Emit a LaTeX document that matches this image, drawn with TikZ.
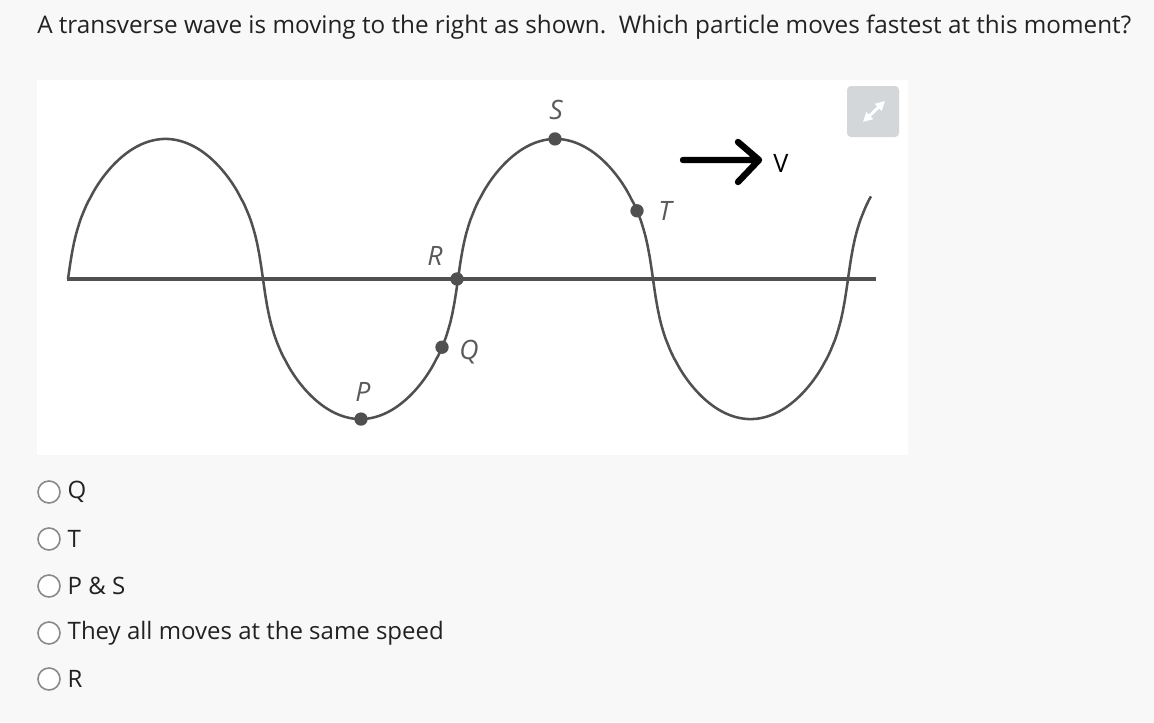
\documentclass[tikz,border=0pt]{standalone}
\usepackage{fontspec}
\setmainfont{Open Sans}
\usetikzlibrary{positioning}
\usetikzlibrary{arrows.meta}

\definecolor{pagebg}{HTML}{F8F8F8}
\definecolor{ink}{HTML}{222222}
\definecolor{wavegray}{HTML}{505050}
\definecolor{labelgray}{HTML}{5A5A5A}
\definecolor{radiogray}{HTML}{8A8A8A}
\definecolor{iconbg}{HTML}{D3D7D9}

\begin{document}
\begin{tikzpicture}[x=0.75pt,y=-0.75pt,
      declare function={sn(\t)=sin(\t*0.923077);
                        wv(\t)=279-140.4*sn(\t)*pow(sn(\t)*sn(\t)+0.01,-0.25);},
      dot/.style={circle,fill=wavegray,inner sep=0pt,minimum size=10pt},
      plabel/.style={font=\fontsize{20}{22}\selectfont\itshape,text=labelgray,inner sep=0pt},
      radio/.style={circle,draw=radiogray,fill=white,line width=1.2pt,minimum size=16.5pt,inner sep=0pt},
      answer/.style={right=5pt,font=\fontsize{18}{22}\selectfont,text=ink,inner sep=0pt},
    ]
    \useasboundingbox[fill=pagebg] (0,0) rectangle (1154,722);

    % question
    \node[anchor=west,font=\fontsize{18.2}{22}\selectfont,text=ink,inner sep=0pt] (question) at (37,27)
        {A transverse wave is moving to the right as shown.\ \ Which particle moves fastest at this moment?};

    % picture panel
    \fill[white] (37,80) rectangle (908,455);
    \draw[wavegray,line width=2.4pt] (67,279) -- (876,279);
    \draw[wavegray,line width=1.9pt,line join=round] plot[domain=0:803,samples=400] ({68+\x},{wv(\x)});

    % particles
    \node[dot] (P) at (361,{wv(293)}) {};
    \node[dot] (Q) at (442,{wv(374)}) {};
    \node[dot] (R) at (457,279) {};
    \node[dot] (S) at (555,{wv(487)}) {};
    \node[dot] (T) at (637,{wv(569)}) {};
    \node[plabel] at (363,392) {P};
    \node[plabel] at (469,352) {Q};
    \node[plabel] at (435,256) {R};
    \node[plabel] at (556,110) {S};
    \node[plabel] at (665,211) {T};

    % wave velocity
    \coordinate (vtail) at (683,160);
    \coordinate (vtip) at (759,160);
    \draw[line width=4.8pt,line cap=round,line join=round] (vtail) -- (vtip)
        (738,142) -- (vtip) -- (738,182);
    \node[font=\fontsize{19}{22}\selectfont,inner sep=0pt] (vlabel) at (781,163) {V};

    % expand icon
    \fill[iconbg,rounded corners=3pt] (847,86) rectangle (899,137);
    \draw[white,line width=2.2pt,{Triangle[length=7pt,width=7pt]}-{Triangle[length=7pt,width=7pt]}]
        (863,122) -- (885,101);

    % answers
    \node[radio] (r1) at (49,492) {};
    \node[answer] (a1) at (r1.east) {Q};
    \node[radio] (r2) at (49,539) {};
    \node[answer] (a2) at (r2.east) {T};
    \node[radio] (r3) at (49,586) {};
    \node[answer] (a3) at (r3.east) {P \& S};
    \node[radio] (r4) at (49,633) {};
    \node[answer] (a4) at (r4.east) {They all moves at the same speed};
    \node[radio] (r5) at (49,679) {};
    \node[answer] (a5) at (r5.east) {R};
\end{tikzpicture}
\end{document}
